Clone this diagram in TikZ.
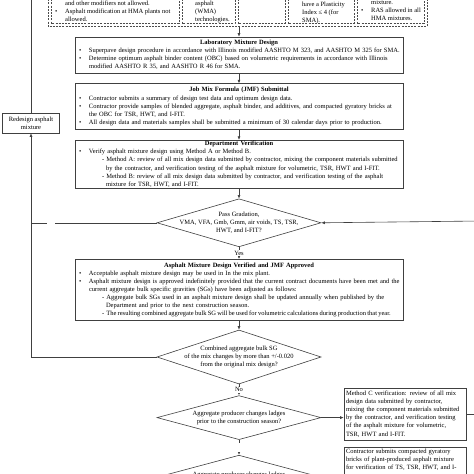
\documentclass[tikz,border=0pt]{standalone}
\usepackage{fontspec}
\setmainfont{Liberation Serif}
\usetikzlibrary{shapes.geometric,arrows.meta,positioning}

\tikzstyle{stepbox} = [draw=black!75, line width=0.6pt, rectangle,
    inner xsep=1pt, inner ysep=0.5pt, text width=326pt, align=left,
    font=\fontsize{6.5}{8.1}\selectfont]
\tikzstyle{sidebox} = [draw=black!75, line width=0.6pt, rectangle,
    inner xsep=2pt, inner ysep=1pt, text width=118pt, align=left,
    font=\fontsize{6.5}{8.1}\selectfont]
\tikzstyle{redobox} = [draw=black!75, line width=0.6pt, rectangle,
    minimum width=57pt, minimum height=20pt, inner sep=1pt, align=center,
    font=\fontsize{6.5}{8.1}\selectfont]
\tikzstyle{decision} = [draw=black!75, line width=0.6pt, diamond,
    inner sep=0pt, minimum width=164pt, minimum height=48pt]
\tikzstyle{dectext} = [align=center, inner sep=0pt, font=\fontsize{6.5}{8.1}\selectfont]
\tikzstyle{toptext} = [anchor=north west, align=left, inner sep=0pt,
    font=\fontsize{6.5}{8.1}\selectfont]
\tikzstyle{dashbox} = [draw=black!70, line width=0.5pt, dash pattern=on 2pt off 1.2pt]
\tikzstyle{flow} = [draw=black!75, line width=0.6pt]
\tikzstyle{lbl} = [fill=white, inner sep=0.6pt, font=\fontsize{6.5}{8.1}\selectfont]
\tikzstyle{linegap} = [fill=white, inner sep=0pt, minimum width=6pt, minimum height=9pt]

\newcommand{\boxtitle}[1]{{\centering\textbf{#1}\par}}
\newcommand{\bul}{\par\hangindent=13pt\hangafter=1\noindent
    \hspace*{3pt}\makebox[10pt][l]{\textbullet}}
\newcommand{\subdash}{\par\hangindent=30pt\hangafter=1\noindent\hspace*{26pt}- }

\begin{document}
\begin{tikzpicture}[x=1pt,y=-1pt,>={Latex[length=3.5pt,width=3pt]}]
\useasboundingbox (0,0) rectangle (474,474);
\clip (0,0) rectangle (474,474);

% material requirements, cut off at the top
\draw[dashbox] (48,-20) rectangle (427,26.5);
\draw[dashbox] (51,-20) rectangle (179,23.5);
\draw[dashbox] (182,-20) rectangle (235,23.5);
\draw[dashbox] (238,-20) rectangle (285,23.5);
\draw[dashbox] (288,-20) rectangle (354,23.5);
\draw[dashbox] (357,-20) rectangle (424,23.5);
\node[toptext] (binder) at (55,0.5) {\hspace*{10pt}and other modifiers not allowed.\\
    \makebox[10pt][l]{\textbullet}Asphalt modification at HMA plants not\\
    \hspace*{10pt}allowed.};
\node[toptext] (wma) at (195,0.5) {asphalt\\(WMA)\\technologies.};
\node[toptext] (plastic) at (302,1.5) {have a Plasticity\\Index ≤ 4 (for\\SMA).};
\node[toptext] (ras) at (361,-0.5) {\hspace*{10pt}mixture.\\
    \makebox[10pt][l]{\textbullet}RAS allowed in all\\
    \hspace*{10pt}HMA mixtures.};
\coordinate (req) at (239,26.5);

% main column
\node[stepbox, minimum height=36pt] (lab) at (239,55) {
    \boxtitle{Laboratory Mixture Design}
    \bul Superpave design procedure in accordance with Illinois modified AASHTO M 323, and AASHTO M 325 for SMA.
    \bul Determine optimum asphalt binder content (OBC) based on volumetric requirements in accordance with Illinois\newline
    modified AASHTO R 35, and AASHTO R 46 for SMA.\par
};
\node[stepbox, minimum height=46pt, below=10pt of lab] (jmf) {
    \boxtitle{Job Mix Formula (JMF) Submittal}
    \bul Contractor submits a summary of design test data and optimum design data.
    \bul Contractor provide samples of blended aggregate, asphalt binder, and additives, and compacted gyratory bricks at\newline
    the OBC for TSR, HWT, and I-FIT.
    \bul All design data and materials samples shall be submitted a minimum of 30 calendar days prior to production.\par
};
\node[stepbox, minimum height=48pt, below=10pt of jmf] (dept) {
    \boxtitle{Department Verification}
    \bul Verify asphalt mixture design using Method A or Method B.
    \subdash Method A: review of all mix design data submitted by contractor, mixing the component materials submitted\newline
    by the contractor, and verification testing of the asphalt mixture for volumetric, TSR, HWT and I-FIT.
    \subdash Method B: review of all mix design data submitted by contractor, and verification testing of the asphalt\newline
    mixture for TSR, HWT, and I-FIT.\par
};
\node[decision, below=10pt of dept] (pass) {};
\node[dectext] (passq) at (pass) {Pass Gradation,\\VMA, VFA, Gmb, Gmm, air voids, TS, TSR,\\HWT, and I-FIT?};
\node[stepbox, minimum height=61pt, below=12pt of pass] (approved) {
    \boxtitle{Asphalt Mixture Design Verified and JMF Approved}
    \bul Acceptable asphalt mixture design may be used in In the mix plant.
    \bul Asphalt mixture design is approved indefinitely provided that the current contract documents have been met and the\newline
    current aggregate bulk specific gravities (SGs) have been adjusted as follows:
    \subdash Aggregate bulk SGs used in an asphalt mixture design shall be updated annually when published by the\newline
    Department and prior to the next construction season.
    \subdash {\spaceskip=0.19em\relax\mbox{The resulting combined aggregate bulk SG will be used for volumetric calculations during production that year.}}\par
};
\node[decision, minimum height=54pt, below=9pt of approved] (sgchange) {};
\node[dectext] (sgq) at (sgchange) {Combined aggregate bulk SG\\of the mix changes by more than +/-0.020\\from the original mix design?};
\node[decision, minimum height=44pt, below=11pt of sgchange] (ledge) {};
\node[dectext] (ledgeq) at (ledge) {Aggregate producer changes ladges\\prior to the construction season?};
\node[decision, minimum height=44pt, below=15pt of ledge] (ledgetwo) {};
\node[dectext, yshift=2pt] (ledgetwoq) at (ledgetwo) {Aggregate producer changes ladges};

% side boxes
\node[redobox] (redesign) at (31,123) {Redesign asphalt\\mixture};
\node[sidebox, minimum height=52pt] (methodc) at (405,414) {Method C verification: review of all mix\\
    design data submitted by contractor,\\
    mixing the component materials submitted\\
    by the contractor, and verification testing\\
    of the asphalt mixture for volumetric,\\
    TSR, HWT and I-FIT.};
\node[sidebox, below=7pt of methodc] (bricks) {Contractor submits compacted gyratory\newline
    bricks of plant-produced asphalt mixture\newline
    for verification of TS, TSR, HWT, and I-\par\rule{0pt}{16pt}};
\coordinate (backtop) at (31,-5);
\coordinate (fromright) at (480,221);
\coordinate (toright) at (480,414);

% connectors
\draw[flow,->] (req) -- (lab);
\draw[flow,->] (lab) -- (jmf);
\draw[flow,->] (jmf) -- (dept);
\draw[flow,->] (dept) -- (pass);
\draw[flow,->] (pass) -- node[lbl] {Yes} (approved);
\draw[flow,->] (approved) -- (sgchange);
\draw[flow,->] (sgchange) -- node[lbl] {No} (ledge);
\draw[flow,->] (ledge) -- node[linegap] {} (ledgetwo);
\draw[flow,->] (sgchange.west) -| (redesign.south);
\draw[flow] (pass.west) -- node[linegap, pos=0.84, minimum width=8pt, minimum height=3pt] {} (pass.west -| redesign.south);
\draw[flow] (redesign) -- (backtop);
\draw[flow,->] (fromright) -- (pass.east);
\draw[flow,->] (ledge.east) -- (ledge.east -| methodc.west);
\draw[flow,->] (ledgetwo.east) -- (ledgetwo.east -| bricks.west);
\draw[flow] (methodc.east) -- (toright);
\end{tikzpicture}
\end{document}
